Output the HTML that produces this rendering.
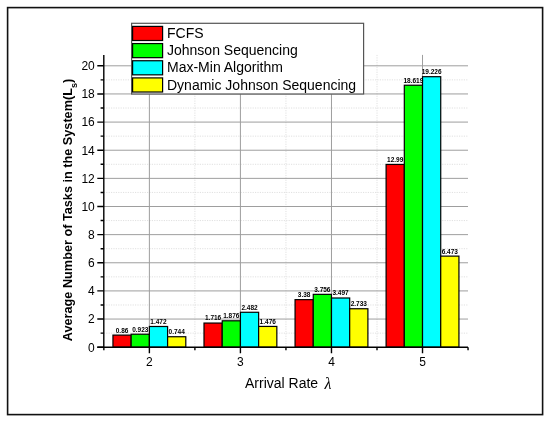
<!DOCTYPE html><html><head><meta charset="utf-8"><style>html,body{margin:0;padding:0;background:#fff;}svg{display:block;}text{font-family:"Liberation Sans",Arial,sans-serif;}</style></head><body>
<svg width="550" height="423" viewBox="0 0 550 423">
<rect x="0" y="0" width="550" height="423" fill="#fff"/>
<rect x="7.6" y="7.6" width="535" height="407" fill="none" stroke="#111" stroke-width="1.6"/>
<path d="M103.8 333.13H468.0M103.8 304.99H468.0M103.8 276.85H468.0M103.8 248.71H468.0M103.8 220.57H468.0M103.8 192.43H468.0M103.8 164.29H468.0M103.8 136.15H468.0M103.8 108.01H468.0M103.8 79.87H468.0M194.90 54.9V347.2M285.95 54.9V347.2M377.00 54.9V347.2" stroke="#e0e0e0" stroke-width="1" stroke-dasharray="1.2 1.2" fill="none"/>
<path d="M103.8 319.06H468.0M103.8 290.92H468.0M103.8 262.78H468.0M103.8 234.64H468.0M103.8 206.50H468.0M103.8 178.36H468.0M103.8 150.22H468.0M103.8 122.08H468.0M103.8 93.94H468.0M103.8 65.80H468.0M149.38 54.9V347.2M240.42 54.9V347.2M331.48 54.9V347.2M422.52 54.9V347.2" stroke="#9e9e9e" stroke-width="1" fill="none"/>
<rect x="112.95" y="335.10" width="18.21" height="12.10" fill="#ff0000" stroke="#000" stroke-width="1.2"/>
<rect x="131.16" y="334.21" width="18.21" height="12.99" fill="#00ff00" stroke="#000" stroke-width="1.2"/>
<rect x="149.38" y="326.49" width="18.21" height="20.71" fill="#00ffff" stroke="#000" stroke-width="1.2"/>
<rect x="167.59" y="336.73" width="18.21" height="10.47" fill="#ffff00" stroke="#000" stroke-width="1.2"/>
<rect x="204.00" y="323.06" width="18.21" height="24.14" fill="#ff0000" stroke="#000" stroke-width="1.2"/>
<rect x="222.22" y="320.80" width="18.21" height="26.40" fill="#00ff00" stroke="#000" stroke-width="1.2"/>
<rect x="240.43" y="312.28" width="18.21" height="34.92" fill="#00ffff" stroke="#000" stroke-width="1.2"/>
<rect x="258.63" y="326.43" width="18.21" height="20.77" fill="#ffff00" stroke="#000" stroke-width="1.2"/>
<rect x="295.06" y="299.64" width="18.21" height="47.56" fill="#ff0000" stroke="#000" stroke-width="1.2"/>
<rect x="313.26" y="294.35" width="18.21" height="52.85" fill="#00ff00" stroke="#000" stroke-width="1.2"/>
<rect x="331.48" y="298.00" width="18.21" height="49.20" fill="#00ffff" stroke="#000" stroke-width="1.2"/>
<rect x="349.69" y="308.75" width="18.21" height="38.45" fill="#ffff00" stroke="#000" stroke-width="1.2"/>
<rect x="386.10" y="164.43" width="18.21" height="182.77" fill="#ff0000" stroke="#000" stroke-width="1.2"/>
<rect x="404.31" y="85.23" width="18.21" height="261.97" fill="#00ff00" stroke="#000" stroke-width="1.2"/>
<rect x="422.52" y="76.69" width="18.21" height="270.51" fill="#00ffff" stroke="#000" stroke-width="1.2"/>
<rect x="440.73" y="256.12" width="18.21" height="91.08" fill="#ffff00" stroke="#000" stroke-width="1.2"/>
<text x="122.06" y="332.50" font-size="6.5" font-weight="bold" text-anchor="middle">0.86</text>
<text x="140.27" y="331.61" font-size="6.5" font-weight="bold" text-anchor="middle">0.923</text>
<text x="158.48" y="323.89" font-size="6.5" font-weight="bold" text-anchor="middle">1.472</text>
<text x="176.69" y="334.13" font-size="6.5" font-weight="bold" text-anchor="middle">0.744</text>
<text x="213.11" y="320.46" font-size="6.5" font-weight="bold" text-anchor="middle">1.716</text>
<text x="231.32" y="318.20" font-size="6.5" font-weight="bold" text-anchor="middle">1.876</text>
<text x="249.53" y="309.68" font-size="6.5" font-weight="bold" text-anchor="middle">2.482</text>
<text x="267.74" y="323.83" font-size="6.5" font-weight="bold" text-anchor="middle">1.476</text>
<text x="304.16" y="297.04" font-size="6.5" font-weight="bold" text-anchor="middle">3.38</text>
<text x="322.37" y="291.75" font-size="6.5" font-weight="bold" text-anchor="middle">3.756</text>
<text x="340.58" y="295.40" font-size="6.5" font-weight="bold" text-anchor="middle">3.497</text>
<text x="358.79" y="306.15" font-size="6.5" font-weight="bold" text-anchor="middle">2.733</text>
<text x="395.21" y="161.83" font-size="6.5" font-weight="bold" text-anchor="middle">12.99</text>
<text x="413.42" y="82.63" font-size="6.5" font-weight="bold" text-anchor="middle">18.619</text>
<text x="431.63" y="74.09" font-size="6.5" font-weight="bold" text-anchor="middle">19.226</text>
<text x="449.84" y="253.52" font-size="6.5" font-weight="bold" text-anchor="middle">6.473</text>
<path d="M103.8 54.9V347.2M97.3 347.2H468.0" stroke="#000" stroke-width="1.4" fill="none"/>
<path d="M97.3 347.20H103.8M100.6 333.13H103.8M97.3 319.06H103.8M100.6 304.99H103.8M97.3 290.92H103.8M100.6 276.85H103.8M97.3 262.78H103.8M100.6 248.71H103.8M97.3 234.64H103.8M100.6 220.57H103.8M97.3 206.50H103.8M100.6 192.43H103.8M97.3 178.36H103.8M100.6 164.29H103.8M97.3 150.22H103.8M100.6 136.15H103.8M97.3 122.08H103.8M100.6 108.01H103.8M97.3 93.94H103.8M100.6 79.87H103.8M97.3 65.80H103.8M103.85 347.2V350.2M149.38 347.2V353.2M194.90 347.2V350.2M240.42 347.2V353.2M285.95 347.2V350.2M331.48 347.2V353.2M377.00 347.2V350.2M422.52 347.2V353.2M468.05 347.2V350.2" stroke="#000" stroke-width="1.4" fill="none"/>
<text x="94.8" y="351.50" font-size="12" text-anchor="end">0</text>
<text x="94.8" y="323.36" font-size="12" text-anchor="end">2</text>
<text x="94.8" y="295.22" font-size="12" text-anchor="end">4</text>
<text x="94.8" y="267.08" font-size="12" text-anchor="end">6</text>
<text x="94.8" y="238.94" font-size="12" text-anchor="end">8</text>
<text x="94.8" y="210.80" font-size="12" text-anchor="end">10</text>
<text x="94.8" y="182.66" font-size="12" text-anchor="end">12</text>
<text x="94.8" y="154.52" font-size="12" text-anchor="end">14</text>
<text x="94.8" y="126.38" font-size="12" text-anchor="end">16</text>
<text x="94.8" y="98.24" font-size="12" text-anchor="end">18</text>
<text x="94.8" y="70.10" font-size="12" text-anchor="end">20</text>
<text x="149.38" y="365.5" font-size="12" text-anchor="middle">2</text>
<text x="240.42" y="365.5" font-size="12" text-anchor="middle">3</text>
<text x="331.48" y="365.5" font-size="12" text-anchor="middle">4</text>
<text x="422.52" y="365.5" font-size="12" text-anchor="middle">5</text>
<text x="245" y="388.2" font-size="14">Arrival Rate</text>
<text x="324.6" y="388.6" font-size="16" font-family="Liberation Serif,serif" font-style="italic" style="font-family:'Liberation Serif',serif">λ</text>
<text transform="translate(71.8 210) rotate(-90)" font-size="12.7" font-weight="bold" text-anchor="middle">Average Number of Tasks in the System(L<tspan font-size="9" dy="4.8">s</tspan><tspan dy="-4.8">)</tspan></text>
<rect x="131.6" y="23.3" width="232" height="70.7" fill="#fff" stroke="#555" stroke-width="1.2"/>
<rect x="132.6" y="26.40" width="30" height="14.1" fill="#ff0000" stroke="#000" stroke-width="1.2"/>
<text x="167" y="37.90" font-size="14">FCFS</text>
<rect x="132.6" y="43.57" width="30" height="14.1" fill="#00ff00" stroke="#000" stroke-width="1.2"/>
<text x="167" y="55.15" font-size="14">Johnson Sequencing</text>
<rect x="132.6" y="60.74" width="30" height="14.1" fill="#00ffff" stroke="#000" stroke-width="1.2"/>
<text x="167" y="72.40" font-size="14">Max-Min Algorithm</text>
<rect x="132.6" y="77.91" width="30" height="14.1" fill="#ffff00" stroke="#000" stroke-width="1.2"/>
<text x="167" y="89.65" font-size="14">Dynamic Johnson Sequencing</text>
</svg></body></html>
